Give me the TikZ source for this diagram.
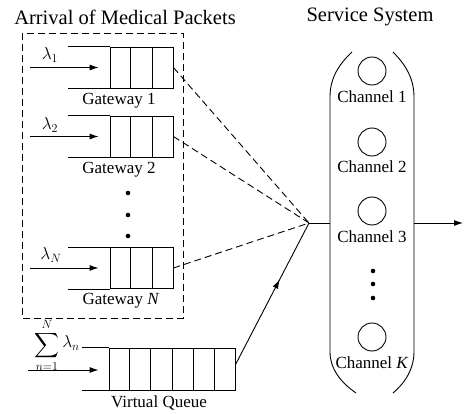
\documentclass[tikz,border=0pt]{standalone}
\usepackage{amsmath}
\usepackage{fontspec}
\setmainfont{Liberation Serif}
\usetikzlibrary{calc,arrows.meta,decorations.markings}

\tikzset{
	lbl/.style={font=\fontsize{17}{20}\selectfont},
	ttl/.style={font=\fontsize{20.5}{24}\selectfont},
	queuebox/.style={draw,minimum height=41pt,inner sep=0pt},
	feedarrow/.style={-{Latex[length=9pt,width=6pt]}},
	dashlink/.style={dash pattern=on 7pt off 4pt},
	chanring/.style={circle,draw,minimum size=28pt,inner sep=0pt},
}

\begin{document}
\begin{tikzpicture}[x=1pt,y=-1pt,line width=0.9pt]
	\useasboundingbox (0,0) rectangle (474,414);
	\node[ttl] (arrival) at (125,17) {Arrival of Medical Packets};
	\node[ttl] (service) at (370,17) {Service System};
	\draw[dashlink] (22,33) rectangle (183,318);
	% gateways and the virtual queue
	\node[queuebox,minimum width=63pt] (G1) at (141.5,67.5) {};
	\node[queuebox,minimum width=63pt] (G2) at (141.5,136.5) {};
	\node[queuebox,minimum width=63pt] (GN) at (141.5,268) {};
	\node[queuebox,minimum width=126pt,minimum height=42pt] (VQ) at (172,369) {};
	\foreach \g in {G1,G2,GN} {
		\draw (\g.north west) -- ++(-42,0);
		\draw (\g.south west) -- ++(-42,0);
		\foreach \k in {1,2}
			\draw ($(\g.north west)!\k/3!(\g.north east)$) -- ($(\g.south west)!\k/3!(\g.south east)$);
	}
	\draw (VQ.north west) -- ++(-27,0);
	\draw (VQ.south west) -- ++(-27,0);
	\foreach \k in {1,...,5}
		\draw ($(VQ.north west)!\k/6!(VQ.north east)$) -- ($(VQ.south west)!\k/6!(VQ.south east)$);
	% arrivals
	\coordinate (in1) at (30,67.5);
	\coordinate (in2) at (30,136.5);
	\coordinate (inN) at (30,268);
	\coordinate (inV) at (28,370);
	\draw[feedarrow] (in1) -- ($(G1.west)+(-11,0)$);
	\draw[feedarrow] (in2) -- ($(G2.west)+(-11,0)$);
	\draw[feedarrow] (inN) -- ($(GN.west)+(-11,0)$);
	\draw[feedarrow] (inV) -- ($(VQ.west)+(-10,1)$);
	\node[lbl] (lam1) at (50,55) {$\lambda_1$};
	\node[lbl] (lam2) at (50,125) {$\lambda_2$};
	\node[lbl] (lamN) at (51,255) {$\lambda_N$};
	\node[lbl,inner sep=0pt] (sigV) at (47,345.5) {$\displaystyle\sum_{n=1}^{N}$};
	\node[lbl,inner sep=0pt] (lamV) at (71,343) {$\lambda_n$};
	\node[lbl] (gw1) at (119,101) {Gateway 1};
	\node[lbl] (gw2) at (119,170) {Gateway 2};
	\node[lbl] (gwN) at (121,301) {Gateway \textit{N}};
	\node[lbl] (vq) at (159,403) {Virtual Queue};
	\foreach \y in {193,215,236}
		\fill (128,\y) circle (2.3);
	% links to the service system
	\coordinate (hub) at (309,223);
	\draw[dashlink] (G1.east) -- (hub);
	\draw[dashlink] (G2.east) -- (hub);
	\draw[dashlink] (GN.east) -- (hub);
	\draw[postaction={decorate},decoration={markings,mark=at position 0.6 with {\arrow{Latex[length=9pt,width=6pt]}}}]
		($(VQ.north east)!0.4!(VQ.south east)$) -- (hub);
	% service system
	\draw (352,52) .. controls (337,66) and (330,80) .. (330,97) -- (330,352) .. controls (330,368) and (340,382) .. (356,393);
	\draw (393,52) .. controls (407,66) and (414,80) .. (414,97) -- (414,352) .. controls (414,368) and (406,382) .. (393,393);
	\coordinate (capin) at (330,223);
	\coordinate (capout) at (414,223);
	\coordinate (exit) at (463,223);
	\draw (hub) -- (capin);
	\draw[feedarrow] (capout) -- (exit);
	\node[chanring] (C1) at (372,71) {};
	\node[chanring] (C2) at (372,142) {};
	\node[chanring] (C3) at (372,211) {};
	\node[chanring] (CK) at (372,337) {};
	\node[lbl] (ch1) at (372,97) {Channel 1};
	\node[lbl] (ch2) at (372,167) {Channel 2};
	\node[lbl] (ch3) at (372,237) {Channel 3};
	\node[lbl] (chK) at (372,363) {Channel \textit{K}};
	\foreach \y in {271,284,298}
		\fill (373,\y) circle (2.3);
\end{tikzpicture}
\end{document}
